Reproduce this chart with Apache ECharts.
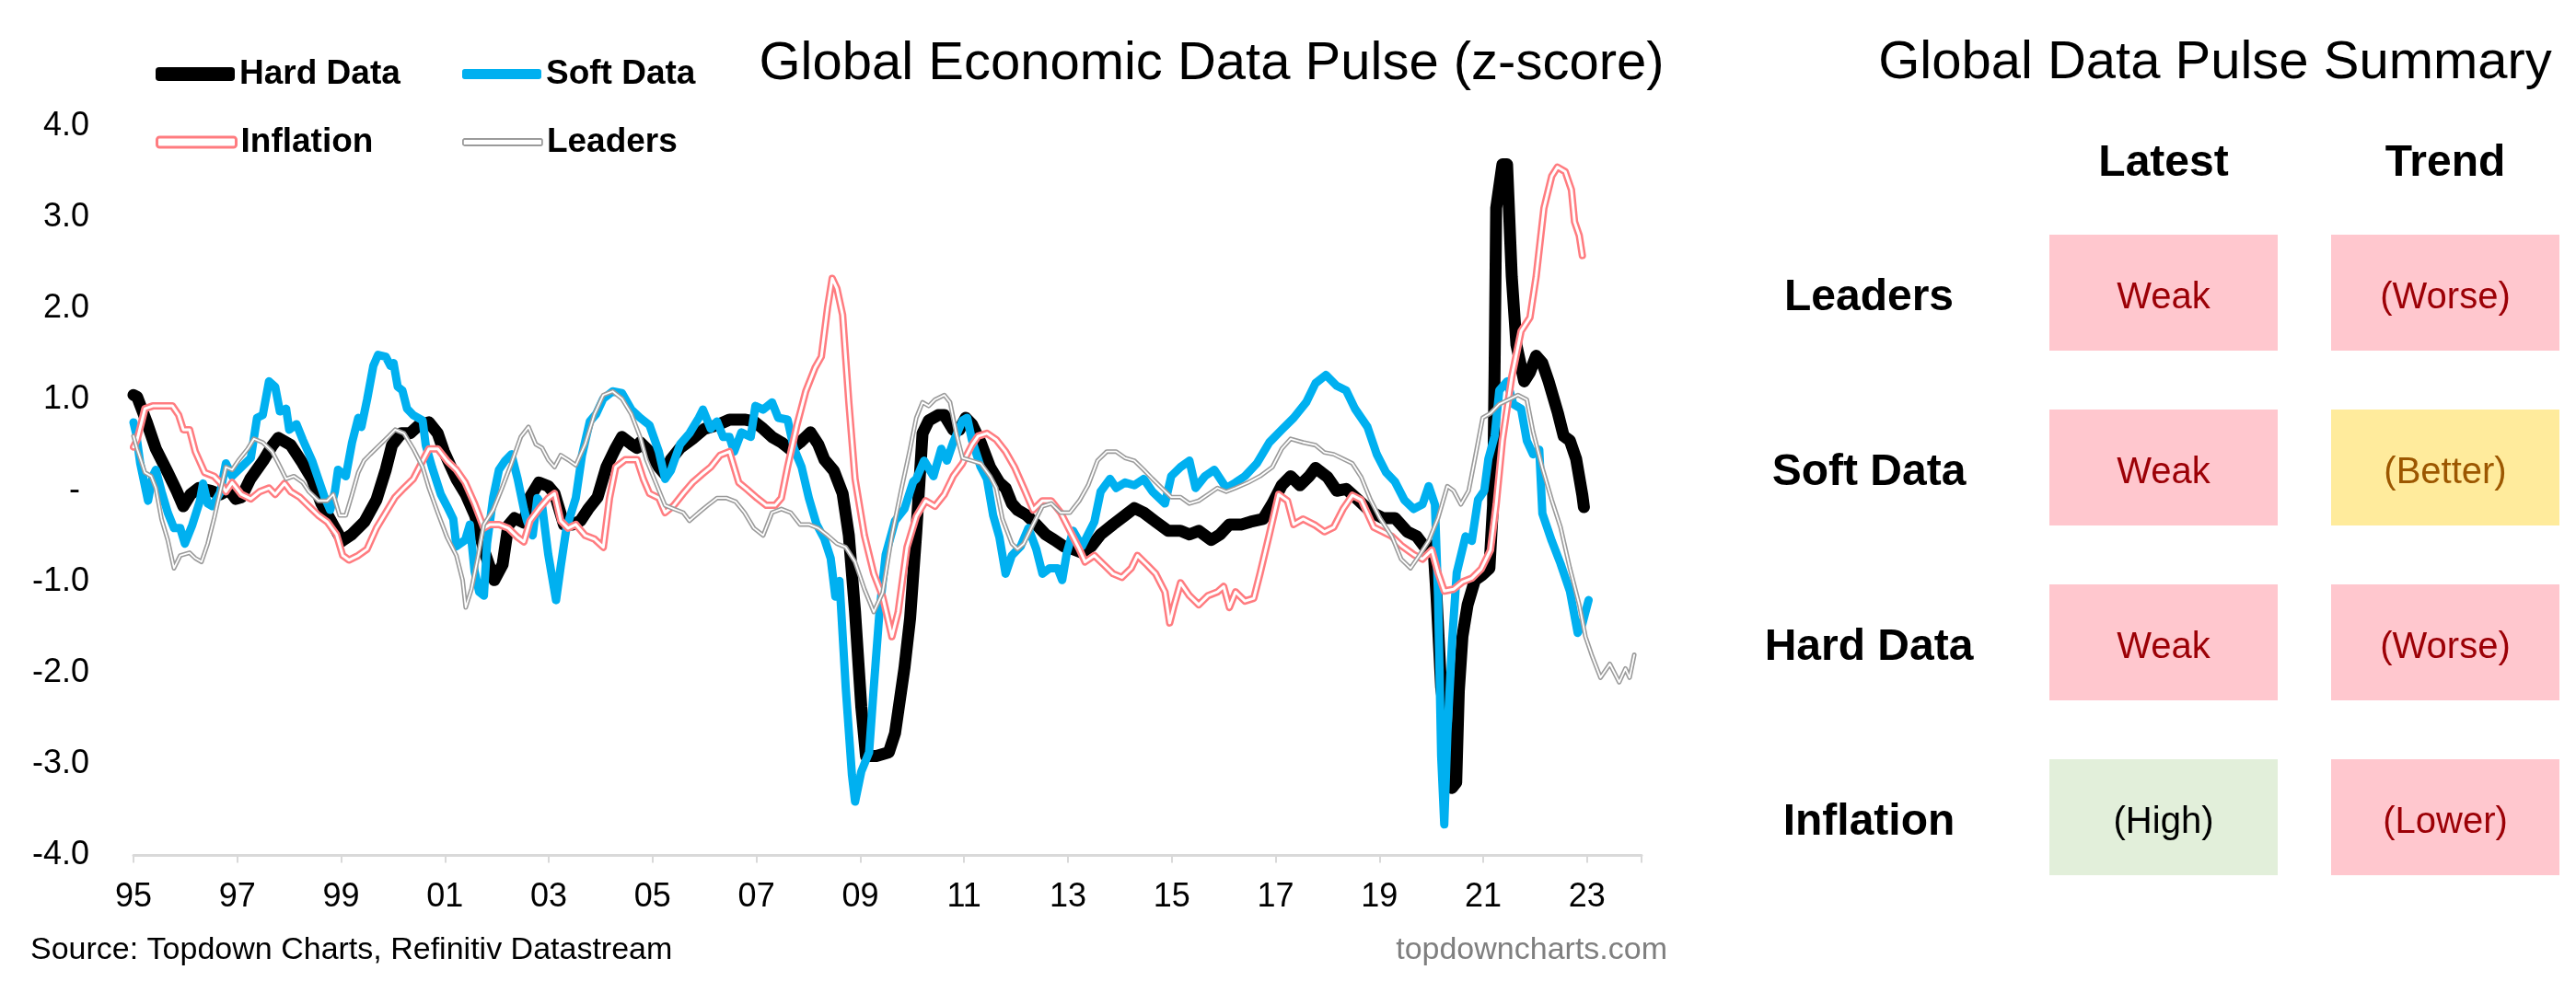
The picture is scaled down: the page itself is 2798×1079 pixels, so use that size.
<!DOCTYPE html>
<html>
<head>
<meta charset="utf-8">
<title>Global Economic Data Pulse</title>
<script src="https://cdn.jsdelivr.net/npm/echarts@6.0.0/dist/echarts.min.js"></script>
<style>
  body { margin: 0; background: #fff; }
  #chart { width: 2798px; height: 1079px; }
</style>
</head>
<body>
<div id="chart"></div>
<script>
// z-score readings, [decimal year, value]
var hardData = [
  [1995.0, 1.05], [1995.07, 1.03], [1995.25, 0.76], [1995.43, 0.46], [1995.66, 0.20], [1995.83, 0.0],
  [1995.96, -0.17], [1996.1, -0.04], [1996.26, 0.03], [1996.49, 0.0], [1996.67, -0.04], [1996.84, 0.01],
  [1996.97, -0.09], [1997.08, -0.07], [1997.25, 0.13], [1997.5, 0.33], [1997.68, 0.50], [1997.79, 0.58],
  [1998.03, 0.50], [1998.26, 0.30], [1998.44, 0.13], [1998.62, -0.14], [1998.85, -0.38], [1999.02, -0.55],
  [1999.2, -0.48], [1999.45, -0.34], [1999.68, -0.10], [1999.86, 0.23], [1999.98, 0.50], [2000.16, 0.63],
  [2000.33, 0.63], [2000.48, 0.71], [2000.69, 0.75], [2000.86, 0.63], [2000.98, 0.43], [2001.22, 0.13],
  [2001.4, -0.04], [2001.58, -0.27], [2001.75, -0.65], [2001.95, -0.98], [2002.11, -0.81], [2002.22, -0.38],
  [2002.34, -0.30], [2002.52, -0.35], [2002.64, -0.07], [2002.81, 0.09], [2002.99, 0.05], [2003.11, -0.03],
  [2003.29, -0.37], [2003.46, -0.37], [2003.61, -0.33], [2003.76, -0.2], [2003.94, -0.07], [2004.11, 0.26],
  [2004.29, 0.47], [2004.41, 0.59], [2004.59, 0.51], [2004.7, 0.47], [2004.76, 0.53], [2004.94, 0.43],
  [2005.12, 0.26], [2005.24, 0.18], [2005.35, 0.34], [2005.53, 0.47], [2005.77, 0.57], [2006.0, 0.68],
  [2006.24, 0.72], [2006.48, 0.78], [2006.77, 0.78], [2006.95, 0.76], [2007.13, 0.68], [2007.3, 0.59],
  [2007.48, 0.53], [2007.66, 0.45], [2007.84, 0.53], [2008.04, 0.64], [2008.19, 0.51], [2008.31, 0.34],
  [2008.49, 0.22], [2008.66, -0.03], [2008.78, -0.49], [2008.9, -1.33], [2009.02, -2.37], [2009.11, -2.91],
  [2009.31, -2.91], [2009.55, -2.87], [2009.67, -2.66], [2009.85, -1.95], [2009.96, -1.40], [2010.08, -0.45],
  [2010.2, 0.63], [2010.32, 0.77], [2010.5, 0.83], [2010.62, 0.83], [2010.79, 0.67], [2010.91, 0.67],
  [2011.03, 0.80], [2011.15, 0.73], [2011.32, 0.53], [2011.5, 0.26], [2011.68, 0.09], [2011.8, 0.03],
  [2011.92, -0.14], [2012.03, -0.21], [2012.21, -0.27], [2012.39, -0.37], [2012.57, -0.48], [2012.74, -0.54],
  [2012.92, -0.61], [2013.1, -0.64], [2013.27, -0.68], [2013.45, -0.61], [2013.63, -0.48], [2013.87, -0.37],
  [2014.1, -0.27], [2014.28, -0.19], [2014.46, -0.24], [2014.69, -0.34], [2014.93, -0.44], [2015.17, -0.44],
  [2015.34, -0.48], [2015.52, -0.44], [2015.76, -0.54], [2015.93, -0.48], [2016.11, -0.37], [2016.35, -0.37],
  [2016.52, -0.34], [2016.76, -0.31], [2016.94, -0.14], [2017.12, 0.06], [2017.29, 0.16], [2017.47, 0.06],
  [2017.65, 0.16], [2017.77, 0.25], [2018.0, 0.15], [2018.18, 0.0], [2018.36, 0.02], [2018.59, -0.10],
  [2018.83, -0.23], [2019.07, -0.30], [2019.3, -0.30], [2019.54, -0.45], [2019.72, -0.50], [2019.89, -0.63],
  [2020.04, -0.60], [2020.1, -1.15], [2020.19, -2.16], [2020.31, -2.66], [2020.4, -3.26], [2020.48, -3.2],
  [2020.53, -2.2], [2020.6, -1.6], [2020.7, -1.25], [2020.84, -0.98], [2020.99, -0.92], [2021.12, -0.85],
  [2021.19, -0.15], [2021.22, 1.35], [2021.25, 3.10], [2021.37, 3.58], [2021.46, 3.58], [2021.55, 2.35],
  [2021.64, 1.60], [2021.79, 1.20], [2021.9, 1.30], [2022.02, 1.48], [2022.14, 1.40], [2022.26, 1.20],
  [2022.44, 0.85], [2022.55, 0.60], [2022.67, 0.55], [2022.79, 0.35], [2022.91, -0.05], [2022.94, -0.18]
];

var softData = [
  [1995.0, 0.75], [1995.05, 0.63], [1995.13, 0.30], [1995.28, -0.11], [1995.37, 0.16], [1995.43, 0.23],
  [1995.54, -0.01], [1995.66, -0.24], [1995.78, -0.41], [1995.9, -0.41], [1995.99, -0.58], [1996.13, -0.38],
  [1996.28, -0.11], [1996.34, 0.08], [1996.43, -0.14], [1996.52, -0.17], [1996.67, -0.02], [1996.78, 0.30],
  [1996.9, 0.16], [1997.08, 0.26], [1997.26, 0.36], [1997.38, 0.80], [1997.49, 0.83], [1997.61, 1.20],
  [1997.73, 1.14], [1997.82, 0.87], [1997.94, 0.90], [1998.0, 0.67], [1998.14, 0.73], [1998.26, 0.56],
  [1998.44, 0.33], [1998.56, 0.13], [1998.68, -0.07], [1998.79, -0.21], [1998.88, -0.01], [1998.94, 0.23],
  [1999.09, 0.16], [1999.21, 0.53], [1999.33, 0.80], [1999.39, 0.70], [1999.5, 1.00], [1999.62, 1.37],
  [1999.71, 1.49], [1999.86, 1.47], [1999.95, 1.37], [2000.01, 1.40], [2000.09, 1.14], [2000.18, 1.10],
  [2000.27, 0.90], [2000.39, 0.83], [2000.57, 0.77], [2000.63, 0.50], [2000.75, 0.26], [2000.92, -0.04],
  [2001.04, -0.17], [2001.16, -0.31], [2001.22, -0.61], [2001.39, -0.54], [2001.48, -0.37], [2001.57, -0.88],
  [2001.66, -1.11], [2001.75, -1.15], [2001.81, -0.58], [2001.93, -0.07], [2002.04, 0.23], [2002.16, 0.33],
  [2002.28, 0.40], [2002.4, 0.13], [2002.52, -0.2], [2002.58, -0.33], [2002.69, -0.49], [2002.78, -0.08],
  [2002.87, -0.16], [2002.99, -0.70], [2003.14, -1.2], [2003.23, -0.83], [2003.34, -0.41], [2003.52, -0.08],
  [2003.64, 0.39], [2003.79, 0.76], [2003.91, 0.84], [2004.05, 1.01], [2004.23, 1.09], [2004.41, 1.07],
  [2004.59, 0.89], [2004.76, 0.80], [2004.94, 0.72], [2005.12, 0.43], [2005.24, 0.13], [2005.35, 0.22],
  [2005.53, 0.51], [2005.71, 0.63], [2005.89, 0.80], [2005.97, 0.89], [2006.12, 0.68], [2006.24, 0.76],
  [2006.36, 0.59], [2006.48, 0.59], [2006.57, 0.43], [2006.71, 0.64], [2006.89, 0.59], [2006.98, 0.93],
  [2007.13, 0.89], [2007.3, 0.97], [2007.42, 0.80], [2007.6, 0.78], [2007.72, 0.47], [2007.87, 0.26],
  [2008.01, -0.08], [2008.16, -0.37], [2008.31, -0.53], [2008.43, -0.74], [2008.52, -1.16], [2008.6, -0.99],
  [2008.72, -2.16], [2008.84, -3.12], [2008.9, -3.41], [2009.02, -3.08], [2009.17, -2.87], [2009.26, -2.16],
  [2009.37, -1.33], [2009.49, -0.7], [2009.67, -0.33], [2009.85, -0.2], [2010.02, 0.1], [2010.08, 0.13],
  [2010.23, 0.33], [2010.41, 0.16], [2010.56, 0.46], [2010.67, 0.33], [2010.79, 0.53], [2010.97, 0.77],
  [2011.06, 0.80], [2011.15, 0.56], [2011.32, 0.26], [2011.44, 0.13], [2011.56, -0.27], [2011.68, -0.51],
  [2011.8, -0.91], [2011.92, -0.71], [2012.09, -0.61], [2012.24, -0.41], [2012.39, -0.64], [2012.51, -0.91],
  [2012.65, -0.85], [2012.8, -0.85], [2012.89, -0.98], [2012.98, -0.68], [2013.1, -0.44], [2013.27, -0.61],
  [2013.51, -0.34], [2013.63, -0.01], [2013.81, 0.13], [2013.93, 0.03], [2014.1, 0.09], [2014.28, 0.06],
  [2014.46, 0.13], [2014.63, -0.01], [2014.87, -0.14], [2014.99, 0.16], [2015.17, 0.26], [2015.34, 0.33],
  [2015.46, 0.03], [2015.64, 0.16], [2015.82, 0.23], [2016.05, 0.03], [2016.23, 0.09], [2016.41, 0.16],
  [2016.64, 0.30], [2016.88, 0.53], [2017.12, 0.67], [2017.35, 0.80], [2017.59, 0.97], [2017.77, 1.18],
  [2017.97, 1.27], [2018.18, 1.15], [2018.36, 1.1], [2018.53, 0.9], [2018.77, 0.7], [2018.95, 0.4],
  [2019.13, 0.2], [2019.3, 0.1], [2019.48, -0.1], [2019.66, -0.2], [2019.83, -0.15], [2019.95, 0.05],
  [2020.07, -0.15], [2020.13, -1.15], [2020.19, -2.91], [2020.25, -3.66], [2020.31, -2.66], [2020.4, -1.66],
  [2020.49, -0.9], [2020.66, -0.5], [2020.78, -0.55], [2020.9, -0.1], [2021.02, 0.0], [2021.1, 0.35],
  [2021.22, 0.6], [2021.31, 1.1], [2021.46, 1.2], [2021.58, 0.95], [2021.73, 0.9], [2021.84, 0.55],
  [2021.96, 0.4], [2022.08, 0.45], [2022.14, -0.25], [2022.32, -0.55], [2022.49, -0.8], [2022.67, -1.1],
  [2022.82, -1.56], [2022.91, -1.46], [2023.03, -1.2]
];

var inflationData = [
  [1995.0, 0.48], [1995.07, 0.56], [1995.22, 0.90], [1995.37, 0.93], [1995.54, 0.93], [1995.75, 0.93],
  [1995.87, 0.83], [1995.96, 0.67], [1996.08, 0.67], [1996.19, 0.43], [1996.37, 0.20], [1996.55, 0.16],
  [1996.67, 0.09], [1996.78, -0.01], [1996.9, 0.09], [1997.08, -0.04], [1997.26, -0.09], [1997.43, -0.01],
  [1997.61, 0.03], [1997.73, -0.04], [1997.91, 0.08], [1998.03, -0.01], [1998.2, -0.07], [1998.38, -0.17],
  [1998.56, -0.27], [1998.73, -0.34], [1998.91, -0.48], [1999.03, -0.71], [1999.15, -0.76], [1999.33, -0.71],
  [1999.5, -0.64], [1999.68, -0.41], [1999.86, -0.24], [2000.04, -0.07], [2000.21, 0.03], [2000.39, 0.13],
  [2000.57, 0.33], [2000.69, 0.46], [2000.86, 0.46], [2001.04, 0.33], [2001.22, 0.23], [2001.39, 0.09],
  [2001.57, -0.14], [2001.75, -0.41], [2001.87, -0.37], [2002.04, -0.37], [2002.22, -0.41], [2002.4, -0.51],
  [2002.52, -0.56], [2002.64, -0.33], [2002.81, -0.2], [2002.99, -0.08], [2003.11, -0.03], [2003.23, -0.33],
  [2003.37, -0.41], [2003.52, -0.37], [2003.7, -0.49], [2003.88, -0.53], [2004.05, -0.62], [2004.17, -0.08],
  [2004.29, 0.26], [2004.47, 0.34], [2004.7, 0.34], [2004.82, 0.13], [2004.94, -0.03], [2005.12, -0.08],
  [2005.24, -0.24], [2005.41, -0.16], [2005.59, -0.03], [2005.77, 0.09], [2005.95, 0.18], [2006.12, 0.26],
  [2006.3, 0.39], [2006.48, 0.43], [2006.66, 0.09], [2006.83, 0.01], [2007.01, -0.08], [2007.19, -0.16],
  [2007.36, -0.16], [2007.48, -0.08], [2007.6, 0.26], [2007.78, 0.72], [2007.95, 1.09], [2008.13, 1.35],
  [2008.25, 1.47], [2008.37, 2.01], [2008.46, 2.33], [2008.55, 2.22], [2008.66, 1.93], [2008.78, 0.97],
  [2008.9, 0.13], [2009.08, -0.49], [2009.26, -0.91], [2009.43, -1.16], [2009.61, -1.6], [2009.73, -1.33],
  [2009.9, -0.62], [2010.08, -0.28], [2010.26, -0.11], [2010.44, -0.17], [2010.62, -0.04], [2010.79, 0.16],
  [2010.97, 0.30], [2011.15, 0.50], [2011.27, 0.60], [2011.44, 0.63], [2011.62, 0.56], [2011.8, 0.43],
  [2011.97, 0.26], [2012.15, 0.03], [2012.33, -0.21], [2012.51, -0.11], [2012.68, -0.11], [2012.86, -0.24],
  [2013.04, -0.44], [2013.22, -0.64], [2013.33, -0.78], [2013.51, -0.71], [2013.69, -0.81], [2013.87, -0.91],
  [2014.04, -0.95], [2014.22, -0.85], [2014.34, -0.71], [2014.52, -0.81], [2014.69, -0.91], [2014.87, -1.11],
  [2014.96, -1.45], [2015.05, -1.25], [2015.17, -1.01], [2015.34, -1.15], [2015.52, -1.25], [2015.7, -1.15],
  [2015.88, -1.11], [2016.0, -1.05], [2016.11, -1.28], [2016.23, -1.11], [2016.41, -1.21], [2016.58, -1.18],
  [2016.7, -0.91], [2016.88, -0.48], [2017.06, -0.04], [2017.23, -0.11], [2017.35, -0.37], [2017.53, -0.31],
  [2017.77, -0.38], [2017.94, -0.45], [2018.12, -0.40], [2018.3, -0.20], [2018.48, -0.05], [2018.65, -0.10],
  [2018.89, -0.40], [2019.07, -0.45], [2019.24, -0.50], [2019.42, -0.60], [2019.66, -0.70], [2019.83, -0.75],
  [2020.01, -0.65], [2020.13, -0.90], [2020.25, -1.10], [2020.43, -1.08], [2020.6, -1.0], [2020.78, -0.96],
  [2020.96, -0.86], [2021.14, -0.65], [2021.25, -0.15], [2021.37, 0.55], [2021.55, 1.25], [2021.73, 1.75],
  [2021.9, 1.9], [2022.02, 2.35], [2022.17, 3.1], [2022.32, 3.45], [2022.43, 3.55], [2022.58, 3.5],
  [2022.7, 3.3], [2022.76, 2.95], [2022.85, 2.8], [2022.91, 2.58]
];

var leadersData = [
  [1995.0, 0.6], [1995.07, 0.46], [1995.22, 0.20], [1995.34, 0.16], [1995.43, 0.03], [1995.54, -0.31],
  [1995.66, -0.54], [1995.78, -0.85], [1995.9, -0.71], [1996.08, -0.68], [1996.19, -0.74], [1996.31, -0.78],
  [1996.43, -0.58], [1996.55, -0.31], [1996.67, -0.01], [1996.78, 0.26], [1996.9, 0.23], [1997.02, 0.33],
  [1997.2, 0.46], [1997.32, 0.57], [1997.49, 0.53], [1997.67, 0.43], [1997.79, 0.30], [1997.94, 0.13],
  [1998.09, 0.16], [1998.26, 0.09], [1998.38, -0.01], [1998.56, -0.11], [1998.73, -0.11], [1998.85, -0.04],
  [1998.97, -0.27], [1999.09, -0.27], [1999.21, -0.04], [1999.33, 0.20], [1999.44, 0.33], [1999.56, 0.40],
  [1999.74, 0.50], [1999.92, 0.60], [2000.04, 0.67], [2000.21, 0.63], [2000.39, 0.46], [2000.57, 0.26],
  [2000.69, 0.03], [2000.86, -0.24], [2001.04, -0.51], [2001.22, -0.71], [2001.34, -0.98], [2001.4, -1.28],
  [2001.51, -1.08], [2001.63, -0.74], [2001.75, -0.37], [2001.93, -0.21], [2002.1, 0.03], [2002.28, 0.30],
  [2002.46, 0.59], [2002.61, 0.70], [2002.75, 0.51], [2002.87, 0.47], [2002.99, 0.34], [2003.11, 0.26],
  [2003.23, 0.39], [2003.37, 0.34], [2003.52, 0.28], [2003.7, 0.51], [2003.88, 0.84], [2004.05, 1.05],
  [2004.23, 1.09], [2004.41, 1.01], [2004.59, 0.84], [2004.76, 0.59], [2004.88, 0.34], [2005.06, 0.09],
  [2005.24, -0.16], [2005.41, -0.2], [2005.59, -0.24], [2005.71, -0.33], [2005.89, -0.24], [2006.06, -0.16],
  [2006.24, -0.08], [2006.42, -0.08], [2006.6, -0.12], [2006.77, -0.24], [2006.95, -0.41], [2007.13, -0.49],
  [2007.3, -0.24], [2007.48, -0.2], [2007.66, -0.24], [2007.84, -0.37], [2008.01, -0.37], [2008.19, -0.41],
  [2008.37, -0.49], [2008.55, -0.58], [2008.72, -0.62], [2008.9, -0.78], [2009.08, -1.08], [2009.26, -1.33],
  [2009.43, -1.12], [2009.61, -0.49], [2009.79, 0.01], [2009.96, 0.46], [2010.08, 0.80], [2010.2, 0.97],
  [2010.32, 0.93], [2010.44, 1.0], [2010.62, 1.05], [2010.73, 0.97], [2010.85, 0.63], [2010.97, 0.36],
  [2011.15, 0.33], [2011.32, 0.30], [2011.5, 0.16], [2011.62, 0.03], [2011.74, -0.31], [2011.92, -0.58],
  [2012.03, -0.64], [2012.15, -0.58], [2012.33, -0.37], [2012.51, -0.17], [2012.68, -0.14], [2012.86, -0.24],
  [2013.04, -0.24], [2013.22, -0.11], [2013.39, 0.06], [2013.57, 0.33], [2013.75, 0.43], [2013.93, 0.43],
  [2014.1, 0.36], [2014.28, 0.33], [2014.46, 0.23], [2014.63, 0.13], [2014.81, 0.03], [2014.99, -0.07],
  [2015.17, -0.07], [2015.34, -0.14], [2015.52, -0.11], [2015.7, -0.04], [2015.88, 0.03], [2016.05, -0.01],
  [2016.23, 0.03], [2016.47, 0.09], [2016.7, 0.16], [2016.94, 0.26], [2017.12, 0.46], [2017.29, 0.57],
  [2017.53, 0.53], [2017.77, 0.5], [2017.94, 0.42], [2018.12, 0.4], [2018.3, 0.35], [2018.48, 0.3],
  [2018.65, 0.15], [2018.83, -0.1], [2019.01, -0.3], [2019.24, -0.5], [2019.42, -0.75], [2019.6, -0.85],
  [2019.78, -0.7], [2019.95, -0.55], [2020.13, -0.3], [2020.31, 0.05], [2020.43, 0.0], [2020.57, -0.15],
  [2020.72, 0.0], [2020.84, 0.35], [2020.99, 0.8], [2021.14, 0.85], [2021.31, 0.95], [2021.49, 1.0],
  [2021.67, 1.05], [2021.84, 1.0], [2021.96, 0.65], [2022.14, 0.25], [2022.32, -0.1], [2022.49, -0.4],
  [2022.67, -0.85], [2022.85, -1.25], [2022.97, -1.6], [2023.09, -1.8], [2023.26, -2.05], [2023.44, -1.9],
  [2023.62, -2.1], [2023.74, -1.95], [2023.82, -2.05], [2023.91, -1.8]
];

var startYear = 1995;
var yTicks = [-4, -3, -2, -1, 0, 1, 2, 3, 4];

// summary table
var rowLabels = ['Leaders', 'Soft Data', 'Hard Data', 'Inflation'];
var colLabels = ['Latest', 'Trend'];
var latestCells = ['Weak', 'Weak', 'Weak', '(High)'];
var trendCells = ['(Worse)', '(Better)', '(Worse)', '(Lower)'];
var latestTone = ['bad', 'bad', 'bad', 'good'];
var trendTone = ['bad', 'neutral', 'bad', 'bad'];

var tones = {
  bad: { fill: '#ffc7ce', text: '#9c0006' },
  neutral: { fill: '#ffeb9c', text: '#9c5700' },
  good: { fill: '#e2efda', text: '#000000' }
};

var FONT = '"Liberation Sans", Arial, Helvetica, sans-serif';
var RED = '#ff7c80';
var GREY = '#9b9b9b';

function toXY (arr) {
  return arr.map(function (p) { return [p[0] - startYear, p[1]]; });
}

function lineSeries (name, data, color, width, z) {
  return {
    name: name,
    type: 'line',
    data: toXY(data),
    symbol: 'none',
    silent: true,
    z: z,
    lineStyle: { color: color, width: width, cap: 'round', join: 'round' },
    itemStyle: { color: color }
  };
}

function legendItem (name, left, top, h, style) {
  return {
    data: [{ name: name, icon: 'roundRect', itemStyle: style }],
    left: left,
    top: top,
    padding: 0,
    itemWidth: 86,
    itemHeight: h,
    selectedMode: false,
    textStyle: { fontFamily: FONT, fontSize: 37, fontWeight: 'bold', color: '#000' }
  };
}

function centeredText (text, x, y, size, weight, color) {
  return {
    type: 'text',
    x: x,
    y: y,
    silent: true,
    style: {
      text: text,
      fill: color || '#000',
      font: (weight || 'normal') + ' ' + size + 'px ' + FONT,
      align: 'center',
      verticalAlign: 'middle',
      textAlign: 'center',
      textVerticalAlign: 'middle'
    }
  };
}

function cell (text, tone, cx, cy) {
  var t = tones[tone];
  return {
    type: 'rect',
    silent: true,
    shape: { x: cx - 124, y: cy - 63, width: 248, height: 126 },
    style: { fill: t.fill },
    textContent: {
      style: { text: text, fill: t.text, font: 'normal 40px ' + FONT }
    },
    textConfig: { position: 'inside', offset: [0, 6] }
  };
}

var graphics = [
  centeredText('Global Economic Data Pulse (z-score)', 1316, 70, 58),
  centeredText('Global Data Pulse Summary', 2406, 69, 58),
  {
    type: 'text', x: 33, y: 1033, silent: true,
    style: { text: 'Source: Topdown Charts, Refinitiv Datastream', fill: '#000', font: 'normal 34px ' + FONT, verticalAlign: 'middle', textVerticalAlign: 'middle' }
  },
  {
    type: 'text', x: 1811, y: 1033, silent: true,
    style: { text: 'topdowncharts.com', fill: '#7f7f7f', font: 'normal 34px ' + FONT, align: 'right', textAlign: 'right', verticalAlign: 'middle', textVerticalAlign: 'middle' }
  }
];

var colX = [2350, 2656];
var rowY = [318, 508, 698, 888];
colLabels.forEach(function (c, i) {
  graphics.push(centeredText(c, colX[i], 178, 48, 'bold'));
});
rowLabels.forEach(function (r, i) {
  graphics.push(centeredText(r, 2030, rowY[i] + 6, 48, 'bold'));
  graphics.push(cell(latestCells[i], latestTone[i], colX[0], rowY[i]));
  graphics.push(cell(trendCells[i], trendTone[i], colX[1], rowY[i]));
});

var xMax = 29.05;

var option = {
  animation: false,
  backgroundColor: '#fff',
  grid: { left: 145, top: 137, width: 1638, height: 792.5, containLabel: false },
  legend: [
    legendItem('Hard Data', 169, 62, 15, { color: '#000' }),
    legendItem('Soft Data', 502, 62, 11, { color: '#00b0f0' }),
    legendItem('Inflation', 169, 136, 11, { color: '#fff', borderColor: RED, borderWidth: 3 }),
    legendItem('Leaders', 502, 136, 7, { color: '#fff', borderColor: GREY, borderWidth: 1.8 })
  ],
  xAxis: [
    {
      type: 'value',
      min: 0,
      max: xMax,
      interval: 2,
      axisLine: { show: false },
      axisTick: { show: false },
      splitLine: { show: false },
      axisLabel: {
        margin: 28,
        showMaxLabel: false,
        fontFamily: FONT,
        fontSize: 36,
        color: '#000',
        formatter: function (v) {
          if (Math.abs(v - Math.round(v)) > 0.01) return '';
          var y = (startYear + Math.round(v)) % 100;
          return (y < 10 ? '0' : '') + y;
        }
      }
    },
    {
      type: 'value',
      min: 0,
      max: xMax,
      interval: 2,
      position: 'bottom',
      axisLine: { show: true, onZero: true, lineStyle: { color: '#d9d9d9', width: 3 } },
      axisTick: { show: true, length: 8, lineStyle: { color: '#d9d9d9', width: 2 } },
      axisLabel: { show: false },
      splitLine: { show: false }
    }
  ],
  yAxis: {
    type: 'value',
    min: yTicks[0],
    max: yTicks[yTicks.length - 1],
    interval: 1,
    axisLine: { show: false },
    axisTick: { show: false },
    splitLine: { show: false },
    axisLabel: {
      margin: 48,
      fontFamily: FONT,
      fontSize: 36,
      color: '#000',
      formatter: function (v) { return v === 0 ? '- ' : v.toFixed(1); }
    }
  },
  series: [
    lineSeries('Hard Data', hardData, '#000000', 13, 2),
    lineSeries('Soft Data', softData, '#00b0f0', 9, 3),
    lineSeries('Inflation', inflationData, RED, 8, 4),
    lineSeries('Inflation inner', inflationData, '#ffffff', 3, 5),
    lineSeries('Leaders', leadersData, GREY, 5, 6),
    lineSeries('Leaders inner', leadersData, '#ffffff', 1.8, 7)
  ],
  graphic: { elements: graphics }
};

var chart = echarts.init(document.getElementById('chart'));
chart.setOption(option);
</script>
</body>
</html>
